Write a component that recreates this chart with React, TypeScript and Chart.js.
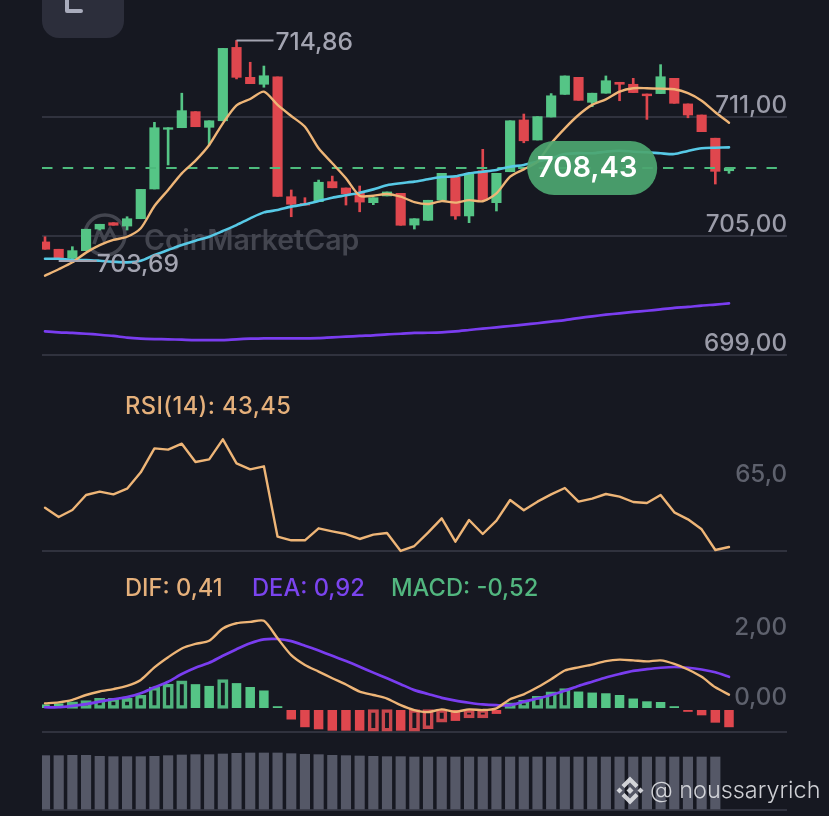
import React, { useEffect, useRef } from "react";
import { Chart, registerables } from "chart.js";

Chart.register(...registerables);

const opens = [704.70,704.33,703.87,704.26,705.35,705.67,705.50,705.87,707.37,710.38,710.46,711.27,710.48,710.81,714.51,713.00,712.65,713.02,706.98,706.64,706.73,707.74,707.42,707.15,706.68,707.02,707.15,705.55,705.79,706.81,707.97,706.01,708.29,706.68,708.24,710.85,709.84,711.00,712.14,713.00,711.74,712.20,712.75,712.65,712.16,712.18,712.95,711.66,711.10,709.93,708.29];
const closes = [704.33,703.87,704.26,705.34,705.59,705.54,705.87,707.35,710.46,710.46,711.32,710.51,710.81,714.46,713.00,712.68,713.08,707.00,706.60,706.56,707.71,707.43,707.13,706.71,706.93,707.22,705.54,705.87,706.80,708.16,706.01,708.13,706.81,708.16,710.81,709.80,711.02,712.07,713.07,711.84,712.20,712.83,712.65,712.23,712.07,713.03,711.69,711.10,710.26,708.26,708.43];
const highs = [704.96,704.33,704.46,705.34,705.59,705.67,705.97,707.35,710.73,710.46,712.20,711.27,710.81,714.46,714.86,713.76,713.57,713.02,707.32,706.93,707.82,708.02,707.42,707.52,706.93,707.22,707.15,705.87,706.80,708.16,707.97,708.13,709.37,708.16,710.81,711.15,711.02,712.18,713.07,713.00,712.20,713.07,712.75,712.95,712.16,713.64,712.95,711.66,711.10,709.93,708.46];
const lows = [704.33,703.87,703.79,704.26,705.30,705.54,705.30,705.87,707.37,708.58,710.46,710.51,709.59,710.81,712.92,712.68,712.50,707.00,705.97,706.56,706.73,707.43,706.56,706.22,706.58,707.02,705.54,705.35,705.79,706.81,705.84,705.67,706.81,706.26,708.24,709.70,709.84,711.00,712.14,711.84,711.52,712.20,711.82,712.23,710.88,712.18,711.69,710.96,710.26,707.62,708.16];

const maOrange = [703.00,703.32,703.67,704.16,704.54,704.80,704.96,705.39,706.51,707.32,708.16,708.80,709.59,710.68,711.59,711.91,712.28,711.61,711.05,710.51,709.42,708.67,707.91,707.03,707.03,707.12,706.98,706.71,706.61,706.76,706.68,706.81,706.75,707.15,707.99,708.36,708.75,709.67,710.43,711.10,711.61,711.89,712.28,712.45,712.45,712.43,712.40,712.20,711.82,711.24,710.71];
const maCyan = [703.85,703.85,703.79,703.79,703.75,703.70,703.67,703.75,704.04,704.29,704.54,704.76,704.96,705.25,705.55,705.89,706.19,706.31,706.48,706.60,706.76,706.93,707.05,707.18,707.35,707.56,707.66,707.74,707.86,707.97,708.01,708.16,708.24,708.33,708.49,708.58,708.75,708.92,709.13,709.18,709.17,709.25,709.30,709.25,709.22,709.17,709.13,709.29,709.42,709.45,709.47];
const maPurple = [700.19,700.14,700.11,700.07,700.02,699.96,699.87,699.82,699.80,699.79,699.77,699.75,699.75,699.75,699.79,699.82,699.84,699.84,699.84,699.84,699.85,699.89,699.92,699.96,699.99,700.04,700.07,700.11,700.12,700.14,700.19,700.26,700.33,700.39,700.46,700.53,700.60,700.68,700.76,700.86,700.95,701.03,701.10,701.17,701.23,701.30,701.37,701.42,701.49,701.54,701.60];

const rsi = [57.35,54.05,56.52,61.82,63.00,62.06,64.06,69.83,78.31,77.84,79.96,73.49,74.43,81.49,73.01,70.89,71.95,47.10,45.81,45.81,50.05,48.99,48.04,46.28,47.81,48.40,42.04,43.80,48.51,53.58,45.33,52.99,48.04,52.75,60.06,56.41,59.47,62.06,64.30,59.47,60.53,62.18,61.24,59.35,59.00,61.82,55.70,53.23,49.69,42.39,43.45];

const dif = [0.16,0.19,0.26,0.40,0.50,0.57,0.66,0.83,1.19,1.48,1.73,1.86,1.95,2.30,2.45,2.49,2.52,2.02,1.54,1.26,1.07,0.88,0.70,0.50,0.40,0.30,0.11,-0.03,-0.09,-0.01,-0.08,-0.01,-0.03,0.02,0.28,0.42,0.62,0.85,1.10,1.19,1.27,1.37,1.41,1.39,1.36,1.39,1.29,1.13,0.92,0.62,0.41];
const dea = [0.05,0.05,0.09,0.14,0.21,0.28,0.34,0.45,0.62,0.78,1.00,1.18,1.32,1.52,1.71,1.88,1.99,2.00,1.94,1.81,1.67,1.52,1.37,1.21,1.04,0.88,0.71,0.54,0.43,0.32,0.24,0.18,0.13,0.11,0.11,0.21,0.30,0.40,0.52,0.66,0.78,0.90,1.00,1.09,1.14,1.18,1.20,1.18,1.13,1.05,0.92];
const macd = [0.13,0.16,0.19,0.23,0.29,0.29,0.29,0.38,0.61,0.70,0.79,0.71,0.66,0.83,0.74,0.63,0.53,0.08,-0.30,-0.52,-0.58,-0.62,-0.62,-0.62,-0.62,-0.62,-0.62,-0.62,-0.55,-0.36,-0.34,-0.24,-0.24,-0.14,0.16,0.24,0.35,0.48,0.57,0.50,0.47,0.45,0.40,0.30,0.22,0.20,0.08,-0.08,-0.18,-0.39,-0.52];
const macdHollow = [2,3,4,5,6,7,8,9,10,13,24,25,27,28,29,31,32,34,35,36,37,38];

const volumes = [1087,1087,1093,1093,1073,1067,1067,1067,1073,1087,1100,1107,1107,1120,1133,1140,1140,1140,1127,1113,1107,1093,1087,1080,1073,1067,1067,1060,1060,1060,1060,1060,1060,1060,1060,1060,1060,1060,1060,1060,1060,1060,1060,1060,1060,1060,1060,1060,1060,1060];

const priceTicks = [711, 705, 699];
const rsiLabelTicks = [65];
const rsiFloor = 42.04;
const macdLabelTicks = [2, 0];
const macdFloor = -0.657;
const volumeFloor = 0;
const lastPrice = 708.43;
const highPrice = 714.86;
const lowPrice = 703.69;

const BG = "#161821";
const GRID = "#30323e";
const GREEN = "#55c586";
const RED = "#df474e";
const ORANGE = "#eeb577";
const CYAN = "#57c9e6";
const PURPLE = "#7a3df0";
const FONT = "Inter";

const comma = (v: number, d: number) => v.toFixed(d).replace(".", ",");
const xy = (arr: any[]) => arr.map((y, x) => ({ x, y }));
const isUp = (i: number) => closes[i] >= opens[i];
const candleColor = (c: any) => (isUp(c.dataIndex) ? GREEN : RED);

function roundedFill(ctx: any, x: number, y: number, w: number, h: number, r: number) {
  ctx.beginPath();
  ctx.roundRect(x, y, w, h, r);
  ctx.fill();
}

const background = {
  id: "background",
  beforeDraw(chart: any) {
    const { ctx, width, height } = chart;
    ctx.save();
    ctx.fillStyle = BG;
    ctx.fillRect(0, 0, width, height);
    ctx.fillStyle = "#2c2e3b";
    roundedFill(ctx, 42, -30, 82, 68, 17);
    ctx.strokeStyle = "#a9acbc";
    ctx.lineWidth = 4;
    ctx.lineCap = "round";
    ctx.lineJoin = "round";
    ctx.beginPath();
    ctx.moveTo(67, -4);
    ctx.lineTo(67, 11);
    ctx.lineTo(81, 11);
    ctx.stroke();
    ctx.restore();
  },
  beforeDatasetsDraw(chart: any) {
    const { ctx } = chart;
    ctx.save();
    ctx.fillStyle = "#43454f";
    ctx.strokeStyle = "#43454f";
    ctx.font = `600 28.5px ${FONT}`;
    ctx.textBaseline = "middle";
    ctx.textAlign = "left";
    ctx.fillText("CoinMarketCap", 144, 241);
    ctx.lineWidth = 3.5;
    ctx.beginPath();
    ctx.arc(105, 235, 20, 0, Math.PI * 2);
    ctx.stroke();
    ctx.beginPath();
    ctx.moveTo(94, 244);
    ctx.lineTo(99, 229);
    ctx.lineTo(104, 240);
    ctx.lineTo(110, 229);
    ctx.lineTo(116, 240);
    ctx.stroke();
    ctx.restore();
  },
};

const annotations = {
  id: "annotations",
  afterDatasetsDraw(chart: any) {
    const { ctx } = chart;
    const xS = chart.scales.x;
    const yS = chart.scales.y;
    ctx.save();
    ctx.textBaseline = "middle";

    // last-price pill
    const pillX = xS.getPixelForValue(40);
    const pillY = yS.getPixelForValue(lastPrice);
    ctx.fillStyle = "rgba(76,166,112,0.93)";
    roundedFill(ctx, pillX - 65, pillY - 27, 130, 54, 27);
    ctx.fillStyle = "#ffffff";
    ctx.textAlign = "center";
    ctx.font = `600 29px ${FONT}`;
    ctx.fillText(comma(lastPrice, 2), pillX - 5, pillY + 0.5);

    // high / low markers
    ctx.strokeStyle = "#a3a4b1";
    ctx.fillStyle = "#a3a4b1";
    ctx.lineWidth = 2;
    const hx = xS.getPixelForValue(14);
    const hy = yS.getPixelForValue(highPrice);
    ctx.beginPath();
    ctx.moveTo(hx, hy);
    ctx.lineTo(hx + 37, hy);
    ctx.stroke();
    ctx.textAlign = "left";
    ctx.font = `500 24.6px ${FONT}`;
    ctx.fillText(comma(highPrice, 2), hx + 39, hy + 2);
    const lx = xS.getPixelForValue(1);
    const ly = yS.getPixelForValue(lowPrice);
    ctx.beginPath();
    ctx.moveTo(lx, ly - 1);
    ctx.lineTo(lx + 38, ly - 1);
    ctx.stroke();
    ctx.fillText(comma(lowPrice, 2), lx + 38, ly + 3);

    // indicator legends
    ctx.font = `500 23.7px ${FONT}`;
    ctx.fillStyle = "#e5b07b";
    ctx.letterSpacing = "0.4px";
    ctx.fillText(`RSI(14): ${comma(rsi[rsi.length - 1], 2)}`, 125, 407);
    ctx.letterSpacing = "0px";
    ctx.fillText(`DIF: ${comma(dif[dif.length - 1], 2)}`, 125, 589);
    ctx.fillStyle = "#7b44ee";
    ctx.fillText(`DEA: ${comma(dea[dea.length - 1], 2)}`, 252, 589);
    ctx.fillStyle = "#52b67f";
    ctx.fillText(`MACD: ${comma(macd[macd.length - 1], 2)}`, 391, 589);

    // footer watermark
    ctx.fillStyle = "rgba(222,223,228,0.92)";
    ctx.font = `300 23.4px ${FONT}`;
    ctx.fillText("@ noussaryrich", 650, 791);
    const cx = 630;
    const cy = 790.5;
    const poly = (pts: number[][]) => {
      ctx.beginPath();
      pts.forEach((p, i) => (i ? ctx.lineTo(cx + p[0], cy + p[1]) : ctx.moveTo(cx + p[0], cy + p[1])));
      ctx.closePath();
      ctx.fill();
    };
    poly([[0, -3.5], [3.5, 0], [0, 3.5], [-3.5, 0]]);
    poly([[-13.5, 0], [-10.5, -3], [-7.5, 0], [-10.5, 3]]);
    poly([[13.5, 0], [10.5, -3], [7.5, 0], [10.5, 3]]);
    poly([[0, -14], [8.5, -5.5], [5.5, -2.5], [0, -8], [-5.5, -2.5], [-8.5, -5.5]]);
    poly([[0, 14], [8.5, 5.5], [5.5, 2.5], [0, 8], [-5.5, 2.5], [-8.5, 5.5]]);
    ctx.restore();
  },
};

const lineSet = (data: number[], color: string, yAxisID: string, order: number, width = 2.4, tension = 0.25) => ({
  type: "line",
  data: xy(data),
  borderColor: color,
  borderWidth: width,
  pointRadius: 0,
  tension,
  borderJoinStyle: "round",
  borderCapStyle: "round",
  yAxisID,
  order,
});

const barSet = (data: any[], thickness: number, yAxisID: string, order: number, extra: any) => ({
  type: "bar",
  data: xy(data),
  barThickness: thickness,
  grouped: false,
  yAxisID,
  order,
  ...extra,
});

const axis = (
  min: number,
  max: number,
  ticks: number[],
  gridValues: number[],
  decimals: number,
  labelValues: number[],
  labelColor: string,
  size: number
) => ({
  position: "right",
  min,
  max,
  afterBuildTicks: (a: any) => {
    a.ticks = ticks.map((value) => ({ value }));
  },
  afterFit: (a: any) => {
    a.paddingTop = 0;
    a.paddingBottom = 0;
  },
  grid: {
    drawTicks: false,
    lineWidth: 2,
    color: (c: any) => (c.tick && gridValues.includes(c.tick.value) ? GRID : "rgba(0,0,0,0)"),
  },
  border: { display: false },
  ticks: {
    mirror: true,
    padding: 0,
    autoSkip: false,
    labelOffset: -11.5,
    color: labelColor,
    font: { family: FONT, size, weight: "500" },
    callback: (v: number) => (labelValues.includes(v) ? comma(v, decimals) : ""),
  },
});

export default function App() {
  const ref = useRef<HTMLCanvasElement>(null);
  useEffect(() => {
    if (!ref.current) return;
    const chart = new Chart(ref.current, {
      type: "bar",
      data: {
        datasets: [
          barSet(volumes, 9.5, "yVol", 20, { backgroundColor: "#555867" }),
          barSet(macd, 9.5, "yMacd", 19, {
            backgroundColor: (c: any) =>
              macdHollow.includes(c.dataIndex) ? "rgba(0,0,0,0)" : c.raw && c.raw.y >= 0 ? GREEN : RED,
            borderColor: (c: any) => (c.raw && c.raw.y >= 0 ? "#4fb47d" : "#c9474d"),
            borderWidth: (c: any) => (macdHollow.includes(c.dataIndex) ? 2 : 0),
            borderSkipped: false,
            inflateAmount: (c: any) => (macdHollow.includes(c.dataIndex) ? 0.8 : 0),
          }),
          barSet(lows.map((l, i) => [l, highs[i]]), 2, "y", 18, { backgroundColor: candleColor }),
          barSet(opens.map((o, i) => [o, closes[i]]), 9.5, "y", 17, { backgroundColor: candleColor }),
          {
            type: "line",
            data: [
              { x: -0.22, y: lastPrice },
              { x: 53.5, y: lastPrice },
            ],
            borderColor: "#4dbb7d",
            borderWidth: 2,
            borderDash: [10.5, 10.2],
            pointRadius: 0,
            yAxisID: "y",
            order: 16,
          },
          lineSet(maPurple, PURPLE, "y", 5, 2.7),
          lineSet(maCyan, CYAN, "y", 4, 2.6),
          lineSet(maOrange, ORANGE, "y", 3),
          lineSet(rsi, ORANGE, "yRsi", 3, 2.4, 0),
          lineSet(dea, PURPLE, "yMacd", 2, 2.7),
          lineSet(dif, ORANGE, "yMacd", 1),
        ] as any,
      },
      options: {
        responsive: false,
        animation: false,
        devicePixelRatio: 1,
        layout: { autoPadding: false, padding: { left: 42, right: 42, top: 0, bottom: 0 } },
        plugins: { legend: { display: false }, tooltip: { enabled: false } },
        scales: {
          x: { type: "linear", offset: false, min: -0.22, max: 54.24, display: false, grid: { display: false } },
          y: axis(675.75, 716.9, priceTicks, priceTicks, 2, priceTicks, "#9b9ca9", 24.2),
          yRsi: axis(-51.6, 236.73, [...rsiLabelTicks, rsiFloor], [rsiFloor], 1, rsiLabelTicks, "#5e616d", 24.2),
          yMacd: axis(-3.057, 20.26, [...macdLabelTicks, macdFloor], [macdFloor], 2, macdLabelTicks, "#5e616d", 24.2),
          yVol: axis(-120, 16200, [volumeFloor], [volumeFloor], 0, [], "#5e616d", 24.2),
        },
      } as any,
      plugins: [background, annotations],
    });
    return () => chart.destroy();
  }, []);
  return (
    <div style={{ position: "absolute", left: 0, top: 0, width: 829, height: 816, background: BG }}>
      <canvas ref={ref} width={829} height={816} style={{ display: "block" }} />
    </div>
  );
}
